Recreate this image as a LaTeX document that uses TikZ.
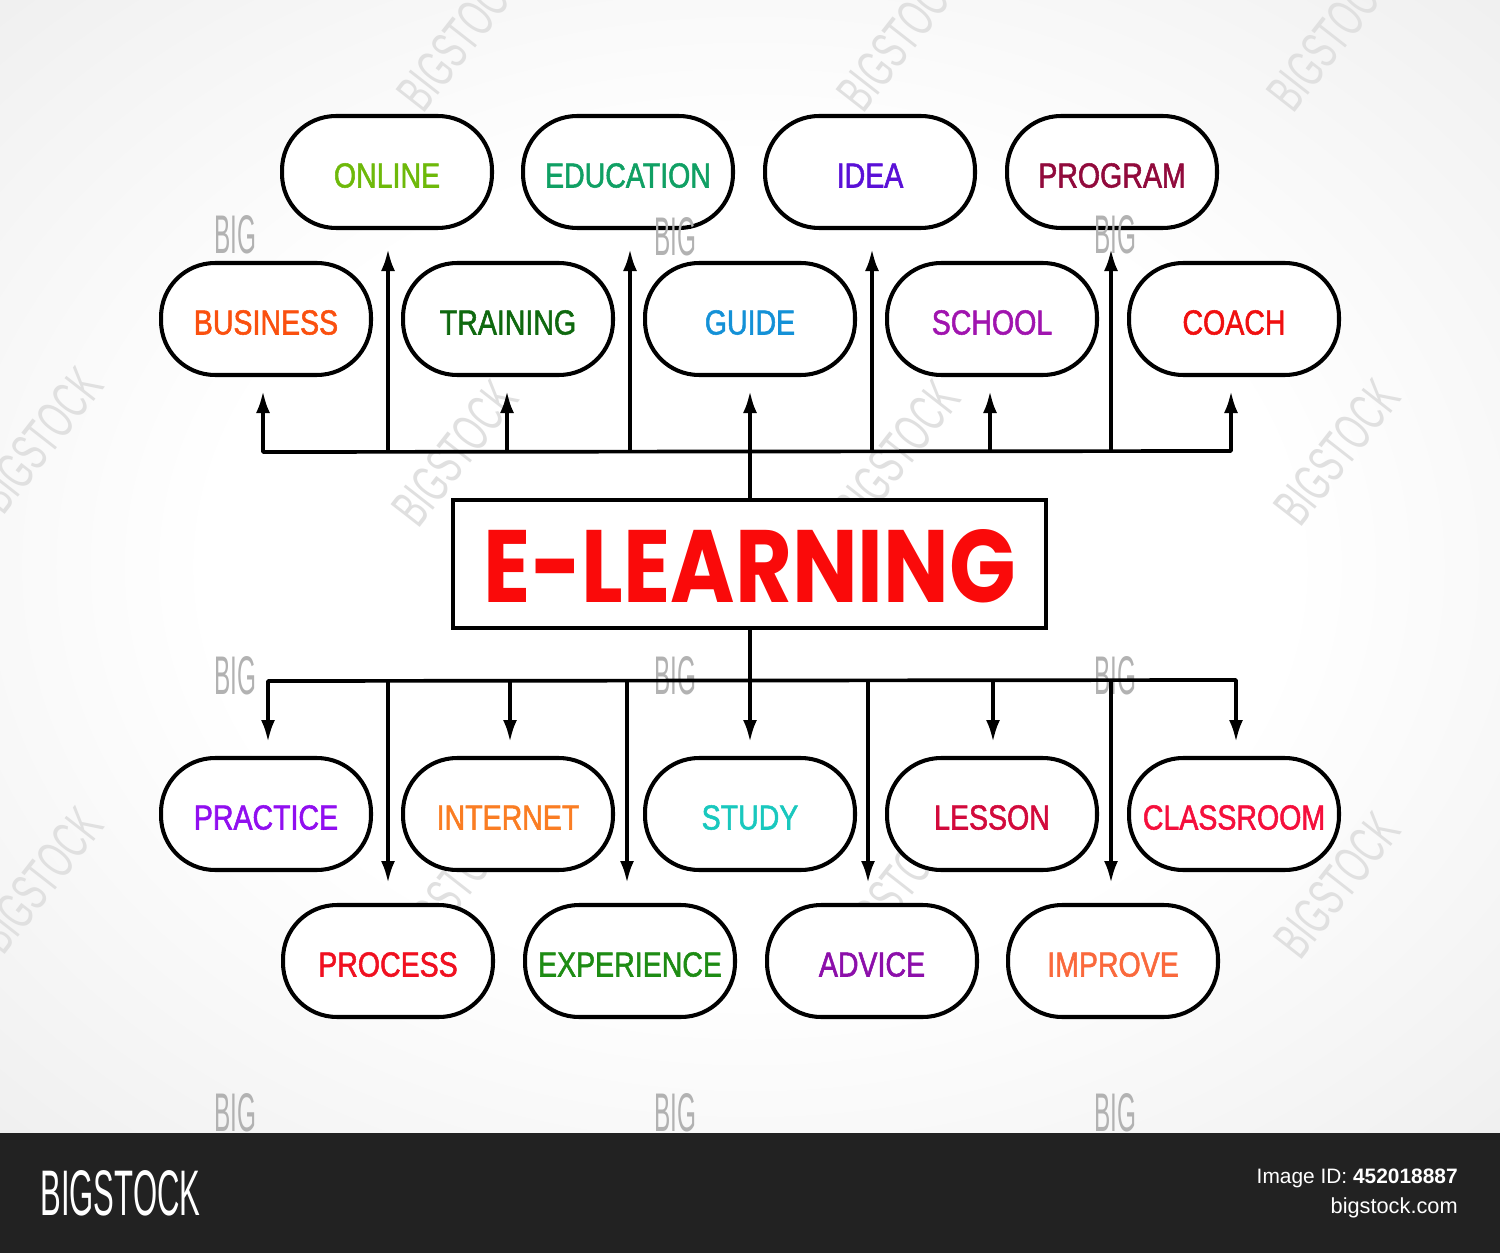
\documentclass[tikz,border=0pt]{standalone}
\usepackage{fontspec}
\usepackage{graphicx}
\usetikzlibrary{arrows.meta}
\newfontfamily\labfont[FakeStretch=0.82,FakeBold=1.5]{Liberation Sans}
\newfontfamily\titlefont{Poppins}
\newfontfamily\barfont{Liberation Sans}
\definecolor{cOnline}{RGB}{110,185,10}
\definecolor{cEducation}{RGB}{16,160,100}
\definecolor{cIdea}{RGB}{90,16,215}
\definecolor{cProgram}{RGB}{145,10,60}
\definecolor{cBusiness}{RGB}{250,80,15}
\definecolor{cTraining}{RGB}{15,105,15}
\definecolor{cGuide}{RGB}{20,145,215}
\definecolor{cSchool}{RGB}{160,20,175}
\definecolor{cCoach}{RGB}{240,16,16}
\definecolor{cPractice}{RGB}{145,15,240}
\definecolor{cInternet}{RGB}{250,125,35}
\definecolor{cStudy}{RGB}{25,200,190}
\definecolor{cLesson}{RGB}{210,10,60}
\definecolor{cClassroom}{RGB}{245,15,60}
\definecolor{cProcess}{RGB}{240,16,32}
\definecolor{cExperience}{RGB}{30,140,20}
\definecolor{cAdvice}{RGB}{140,15,170}
\definecolor{cImprove}{RGB}{250,105,60}
\definecolor{cTitle}{RGB}{250,10,10}
\definecolor{cBar}{RGB}{34,34,34}
\pgfdeclareradialshading{bgshade}{\pgfpoint{0bp}{0bp}}{color(0bp)=(white); color(18bp)=(white); color(50bp)=(black!11); color(72bp)=(black!15)}
\tikzset{
  pill/.style={draw=black, line width=2.3pt, fill=white, rounded corners=1.08cm,
    minimum width=4.2cm, minimum height=2.24cm, inner sep=0pt,
    text height=0.62cm, text depth=0cm,
    font=\labfont\fontsize{19.8}{20}\selectfont},
  mainbox/.style={draw=black, line width=2.3pt, fill=white,
    minimum width=11.86cm, minimum height=2.56cm, inner sep=0pt},
  bus/.style={line width=2.1pt, line cap=round},
  arr/.style={line width=2.1pt, -{Latex[length=0.44cm,width=0.28cm]}},
  wmbig/.style={text=black!30, inner sep=0pt},
  wmstock/.style={text=black!12, inner sep=0pt, rotate=52}
}
\begin{document}
\begin{tikzpicture}[x=0.02cm,y=-0.02cm]
% background
\useasboundingbox (0,0) rectangle (1500,1253);
\shade[shading=bgshade] (0,0) rectangle (1500,1133);
\fill[cBar] (0,1133) rectangle (1500,1253);
% watermarks
\foreach \wx/\wy in {455/453,897/453,1337/452,40/440,455/885,897/885,1337/885,40/880,460/38,900/38,1330/38}
  \node[wmstock] (ws\wx\wy) at (\wx,\wy) {\resizebox{3.3cm}{0.75cm}{\barfont BIGSTOCK}};
% central node
\node[mainbox] (main) at (749.5,564) {};
\node (title) at (750,566.5) {\resizebox{10.64cm}{1.46cm}{\color{cTitle}\titlefont\bfseries E-LEARNING}};
% top row
\node[pill, text=cOnline]    (online)    at (387,172) {ONLINE};
\node[pill, text=cEducation] (education) at (628,172) {EDUCATION};
\node[pill, text=cIdea]      (idea)      at (870,172) {IDEA};
\node[pill, text=cProgram]   (program)   at (1112,172) {PROGRAM};
% second row
\node[pill, text=cBusiness]  (business)  at (266,319) {BUSINESS};
\node[pill, text=cTraining]  (training)  at (508,319) {TRAINING};
\node[pill, text=cGuide]     (guide)     at (750,319) {GUIDE};
\node[pill, text=cSchool]    (school)    at (992,319) {SCHOOL};
\node[pill, text=cCoach]     (coach)     at (1234,319) {COACH};
% third row
\node[pill, text=cPractice]  (practice)  at (266,814) {PRACTICE};
\node[pill, text=cInternet]  (internet)  at (508,814) {INTERNET};
\node[pill, text=cStudy]     (study)     at (750,814) {STUDY};
\node[pill, text=cLesson]    (lesson)    at (992,814) {LESSON};
\node[pill, text=cClassroom] (classroom) at (1234,814) {CLASSROOM};
% fourth row
\node[pill, text=cProcess]    (process)    at (388,961) {PROCESS};
\node[pill, text=cExperience] (experience) at (630,961) {EXPERIENCE};
\node[pill, text=cAdvice]     (advice)     at (872,961) {ADVICE};
\node[pill, text=cImprove]    (improve)    at (1113,961) {IMPROVE};
% BIG watermarks
\foreach \wx/\wy in {235/235,675/237,1115/235,235/676,675/676,1115/676,235/1113,675/1113,1115/1113}
  \node[wmbig] (wb\wx\wy) at (\wx,\wy) {\resizebox{0.84cm}{0.76cm}{\barfont BIG}};
% top bus
\coordinate (tl) at (263,452);
\coordinate (tr) at (1231,451);
\draw[bus] (tl) -- (tr);
\coordinate (t2) at (388,452);
\coordinate (t3) at (507,452);
\coordinate (t4) at (630,451);
\coordinate (t6) at (872,451);
\coordinate (t7) at (990,451);
\coordinate (t8) at (1111,451);
\draw[arr, shorten >=0.28cm] (tl) -- (tl |- business.south);
\draw[arr, shorten >=0.38cm] (t2) -- (t2 |- online.south);
\draw[arr, shorten >=0.28cm] (t3) -- (t3 |- training.south);
\draw[arr, shorten >=0.38cm] (t4) -- (t4 |- education.south);
\draw[arr, shorten >=0.28cm] (main.north -| guide.south) -- (guide.south);
\draw[arr, shorten >=0.38cm] (t6) -- (t6 |- idea.south);
\draw[arr, shorten >=0.28cm] (t7) -- (t7 |- school.south);
\draw[arr, shorten >=0.38cm] (t8) -- (t8 |- program.south);
\draw[arr, shorten >=0.28cm] (tr) -- (tr |- coach.south);
% bottom bus
\coordinate (bl) at (268,681);
\coordinate (br) at (1236,680);
\draw[bus] (bl) -- (br);
\coordinate (b2) at (388,681);
\coordinate (b3) at (510,681);
\coordinate (b4) at (627,681);
\coordinate (b6) at (868,680);
\coordinate (b7) at (993,680);
\coordinate (b8) at (1111,680);
\draw[arr, shorten >=0.28cm] (bl) -- (bl |- practice.north);
\draw[arr, shorten >=0.40cm] (b2) -- (b2 |- process.north);
\draw[arr, shorten >=0.28cm] (b3) -- (b3 |- internet.north);
\draw[arr, shorten >=0.40cm] (b4) -- (b4 |- experience.north);
\draw[arr, shorten >=0.28cm] (main.south -| study.north) -- (study.north);
\draw[arr, shorten >=0.40cm] (b6) -- (b6 |- advice.north);
\draw[arr, shorten >=0.28cm] (b7) -- (b7 |- lesson.north);
\draw[arr, shorten >=0.40cm] (b8) -- (b8 |- improve.north);
\draw[arr, shorten >=0.28cm] (br) -- (br |- classroom.north);
% bottom bar texts
\node[anchor=west, inner sep=0pt, text=white] (logo) at (40,1193) {\resizebox{3.2cm}{0.9cm}{\barfont BIGSTOCK}};
\node[anchor=base east, inner sep=0pt, text=white, font=\barfont\fontsize{13.5}{14}\selectfont] (imgid) at (1458,1183) {\resizebox{4.02cm}{!}{Image ID: \textbf{452018887}}};
\node[anchor=base east, inner sep=0pt, text=white, font=\barfont\fontsize{13.5}{14}\selectfont] (site) at (1458,1213) {\resizebox{2.54cm}{!}{bigstock.com}};
\end{tikzpicture}
\end{document}
